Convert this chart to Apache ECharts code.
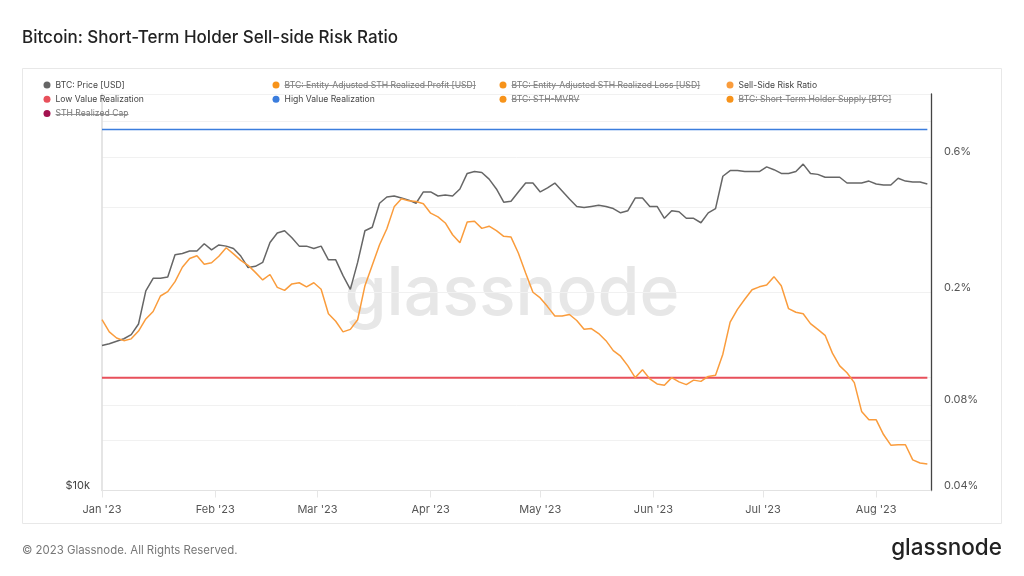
<!DOCTYPE html>
<html>
<head>
<meta charset="utf-8">
<title>Bitcoin: Short-Term Holder Sell-side Risk Ratio</title>
<script src="https://cdn.jsdelivr.net/npm/echarts@6/dist/echarts.min.js"></script>
<style>
  html, body { margin: 0; padding: 0; background: #fff; }
  #main { width: 1024px; height: 576px; }
</style>
</head>
<body>
<div id="main"></div>
<script>
// one reading every 2 days, starting 2023-01-01
const startDay = new Date(2023, 0, 1);
const stepDays = 2;

// BTC price [USD] (left log axis)
const priceUsd = [
  16600, 16700, 16850, 17000, 17250, 17900, 20100, 21000, 21000, 21100,
  22800, 22900, 23100, 23100, 23700, 23200, 23600, 23500, 23300, 22700,
  21800, 21900, 22200, 23800, 24600, 24800, 24200, 23500, 23500, 23300,
  23500, 22400, 22400, 21200, 20200, 22200, 24800, 25100, 27300, 27900,
  28000, 27800, 27600, 27300, 28400, 28400, 28000, 28100, 28000, 28700,
  30300, 30500, 30400, 29700, 28700, 27400, 27500, 28400, 29300, 29300,
  28400, 28800, 29300, 28500, 27700, 27000, 26900, 27000, 27100, 27000,
  26800, 26400, 26600, 27800, 27800, 27000, 27000, 25900, 26600, 26500,
  25900, 25900, 25500, 26400, 26800, 30000, 30600, 30600, 30500, 30500,
  30500, 31000, 30700, 30300, 30300, 30500, 31300, 30300, 30200, 29900,
  29900, 29900, 29300, 29300, 29300, 29500, 29200, 29100, 29100, 29800,
  29500, 29400, 29400, 29200
];

// Sell-Side Risk Ratio [%], right log axis
const sellSideRisk = [
  0.160, 0.145, 0.138, 0.135, 0.137, 0.146, 0.161, 0.171, 0.194, 0.201,
  0.218, 0.245, 0.263, 0.269, 0.251, 0.254, 0.268, 0.287, 0.273, 0.259,
  0.249, 0.235, 0.221, 0.231, 0.208, 0.203, 0.214, 0.216, 0.209, 0.216,
  0.205, 0.168, 0.158, 0.145, 0.148, 0.160, 0.211, 0.249, 0.294, 0.335,
  0.400, 0.427, 0.420, 0.418, 0.410, 0.380, 0.369, 0.351, 0.319, 0.299,
  0.354, 0.356, 0.336, 0.342, 0.330, 0.315, 0.313, 0.275, 0.234, 0.200,
  0.191, 0.178, 0.165, 0.165, 0.167, 0.159, 0.148, 0.149, 0.143, 0.135,
  0.1245, 0.119, 0.110, 0.100, 0.1066, 0.099, 0.095, 0.094, 0.100, 0.0966,
  0.0945, 0.098, 0.097, 0.101, 0.102, 0.121, 0.157, 0.174, 0.189, 0.204,
  0.209, 0.212, 0.227, 0.211, 0.175, 0.170, 0.168, 0.155, 0.148, 0.141,
  0.122, 0.110, 0.104, 0.096, 0.076, 0.071, 0.071, 0.063, 0.0578, 0.058,
  0.058, 0.0513, 0.050, 0.0496
];

// threshold bands [%]
const lowValueLevel = 0.1;
const highValueLevel = 0.75;

// axis ticks
const monthLabels = ["Jan '23", "Feb '23", "Mar '23", "Apr '23", "May '23", "Jun '23", "Jul '23", "Aug '23"];
const ratioGridValues = [0.04, 0.06, 0.08, 0.1, 0.2, 0.4, 0.6, 0.8, 1];
const ratioLabelValues = [0.04, 0.08, 0.2, 0.6];
const priceLabelValues = [10000];

// legend, column by column; struck-out names are switched off on glassnode
const legendColumns = [
  ['BTC: Price [USD]', 'Low Value Realization', 'STH Realized Cap'],
  ['BTC: Entity-Adjusted STH Realized Profit [USD]', 'High Value Realization'],
  ['BTC: Entity-Adjusted STH Realized Loss [USD]', 'BTC: STH-MVRV'],
  ['Sell-Side Risk Ratio', 'BTC: Short-Term Holder Supply [BTC]']
];
const struckItems = [
  'STH Realized Cap',
  'BTC: Entity-Adjusted STH Realized Profit [USD]',
  'BTC: Entity-Adjusted STH Realized Loss [USD]',
  'BTC: STH-MVRV',
  'BTC: Short-Term Holder Supply [BTC]'
];

const dates = priceUsd.map((_, i) =>
  new Date(startDay.getFullYear(), startDay.getMonth(), startDay.getDate() + i * stepDays).getTime());

const DAY = 24 * 3600 * 1000;
const font = 'Inter';
const legendLeft = [43.5, 272.5, 499.5, 726.5];
const legendTop = 79;
const legendRow = 14.3;
const legendFontSize = 8.6;

// text widths for the strike-through lines
const measure = document.createElement('canvas').getContext('2d');
measure.font = legendFontSize + 'px ' + font;

const legends = legendColumns.map((names, c) => ({
  orient: 'vertical',
  left: legendLeft[c],
  top: legendTop,
  padding: 0,
  icon: 'circle',
  itemWidth: 7,
  itemHeight: 7,
  itemGap: legendRow - 12,
  selectedMode: false,
  textStyle: { fontSize: legendFontSize, color: '#444', fontFamily: font, lineHeight: 12 },
  data: names.map(n => struckItems.includes(n) ? { name: n, textStyle: { color: '#777' } } : { name: n })
}));

const strikeLines = [];
legendColumns.forEach((names, c) => {
  names.forEach((n, row) => {
    if (!struckItems.includes(n)) return;
    const x0 = legendLeft[c] + 12;
    const y0 = Math.round(legendTop + 6 + row * legendRow) + 0.5;
    strikeLines.push({
      type: 'line',
      silent: true,
      z: 10,
      shape: { x1: x0, y1: y0, x2: x0 + measure.measureText(n).width, y2: y0 },
      style: { stroke: '#8a8a8a', lineWidth: 0.9 }
    });
  });
});

function lineSeries(name, color, axis, data, width) {
  return {
    name: name,
    type: 'line',
    yAxisIndex: axis,
    data: data,
    symbol: 'none',
    silent: true,
    itemStyle: { color: color },
    lineStyle: { color: color, width: width }
  };
}

const orange = '#f7931a';
const series = [
  lineSeries('High Value Realization', '#3b7ddd', 1, dates.map(d => [d, highValueLevel]), 1.5),
  lineSeries('Low Value Realization', '#e8505b', 1, dates.map(d => [d, lowValueLevel]), 2),
  lineSeries('BTC: Price [USD]', '#666666', 0, dates.map((d, i) => [d, priceUsd[i]]), 1.5),
  lineSeries('Sell-Side Risk Ratio', '#fa9c3c', 1, dates.map((d, i) => [d, sellSideRisk[i]]), 1.5),
  // switched-off metrics: only their legend entries are shown
  lineSeries('STH Realized Cap', '#a3124f', 0, [], 1.5),
  lineSeries('BTC: Entity-Adjusted STH Realized Profit [USD]', orange, 0, [], 1.5),
  lineSeries('BTC: Entity-Adjusted STH Realized Loss [USD]', orange, 0, [], 1.5),
  lineSeries('BTC: STH-MVRV', orange, 1, [], 1.5),
  lineSeries('BTC: Short-Term Holder Supply [BTC]', orange, 0, [], 1.5)
];

const myChart = echarts.init(document.getElementById('main'), null, { renderer: 'canvas' });

const option = {
  backgroundColor: '#fff',
  animation: false,
  textStyle: { fontFamily: font },
  title: [
    {
      text: 'Bitcoin: Short-Term Holder Sell-side Risk Ratio',
      left: 22, top: 29, padding: 0,
      textStyle: { fontSize: 17, fontWeight: 500, color: '#222', fontFamily: font }
    },
    {
      text: '© 2023 Glassnode. All Rights Reserved.',
      left: 22, top: 545, padding: 0,
      textStyle: { fontSize: 11.4, fontWeight: 'normal', color: '#777', fontFamily: font }
    },
    {
      text: 'glassnode',
      right: 22, top: 537, padding: 0,
      textStyle: { fontSize: 22.5, fontWeight: 500, color: '#222', fontFamily: font }
    }
  ],
  legend: legends,
  grid: { left: 102, right: 93, top: 94, bottom: 85.5 },
  xAxis: {
    type: 'time',
    min: new Date(2023, 0, 1).getTime(),
    max: new Date(2023, 7, 16).getTime(),
    splitNumber: 8,
    minInterval: 28 * DAY,
    maxInterval: 31 * DAY,
    axisLine: { lineStyle: { color: '#e2e2e2' } },
    axisTick: { show: true, length: 7, lineStyle: { color: '#e6e6e6' } },
    axisLabel: {
      formatter: v => monthLabels[new Date(v).getMonth()],
      color: '#555', fontSize: 11, margin: 14, fontFamily: font,
      showMinLabel: true
    },
    splitLine: { show: false }
  },
  yAxis: [
    {
      type: 'log',
      position: 'left',
      min: 10000,
      max: 40000,
      axisLine: { show: true, lineStyle: { color: '#dcdcdc', width: 1.5 } },
      axisTick: { show: false },
      splitLine: { show: false },
      axisLabel: {
        customValues: priceLabelValues,
        formatter: v => '$' + Math.round(v / 1000) + 'k',
        color: '#444', fontSize: 11, margin: 12, verticalAlign: 'bottom', lineHeight: 10, fontFamily: font
      }
    },
    {
      type: 'log',
      position: 'right',
      min: 0.04,
      max: 1,
      axisLine: { show: true, lineStyle: { color: '#444', width: 1.3 } },
      axisTick: { show: false, customValues: ratioGridValues },
      splitLine: { show: true, lineStyle: { color: '#f1f1f1', width: 1 } },
      axisLabel: {
        customValues: ratioLabelValues,
        formatter: v => +v.toPrecision(2) + '%',
        color: '#555', fontSize: 11, margin: 13, verticalAlign: 'bottom', lineHeight: 10, fontFamily: font
      }
    }
  ],
  graphic: [
    {
      type: 'rect',
      silent: true,
      z: -10,
      shape: { x: 22.5, y: 68.5, width: 979, height: 455 },
      style: { fill: 'none', stroke: '#e8e8e8', lineWidth: 1 }
    },
    {
      type: 'text',
      silent: true,
      z: 0,
      x: 512,
      y: 295,
      style: {
        text: 'glassnode',
        font: '500 68px ' + font,
        fill: '#e7e7e7',
        textAlign: 'center',
        textVerticalAlign: 'middle'
      }
    }
  ].concat(strikeLines),
  series: series
};

myChart.setOption(option);
</script>
</body>
</html>
